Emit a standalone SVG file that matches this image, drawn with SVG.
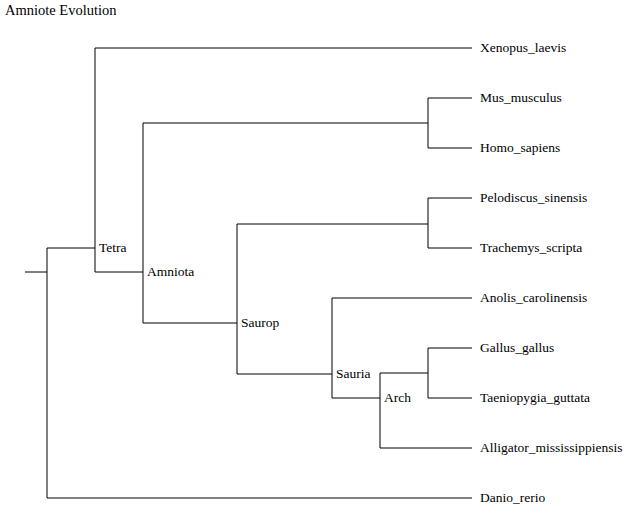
<svg xmlns="http://www.w3.org/2000/svg" width="640" height="514" viewBox="0 0 640 514">
<style>
text{font-family:"Liberation Serif","DejaVu Serif",serif;font-size:13.5px;fill:#000}
.t{font-size:14.5px}
.e{stroke:#000;stroke-width:1;fill:none}
</style>
<rect width="640" height="514" fill="#fff"/>
<text class="t" x="5" y="15">Amniote Evolution</text>
<g id="connectors" class="e">
<path d="M25 272H47M47 248V498M47 498H472M47 248H95M95 48V272M95 48H472M95 272H143M143 123V323M143 123H428M428 98V148M428 98H472M428 148H472M143 323H237M237 224V374M237 224H428M428 198V248M428 198H472M428 248H472M237 374H332M332 298V398M332 298H472M332 398H380M380 373V448M380 448H472M380 373H428M428 348V398M428 348H472M428 398H472"/>
</g>
<g id="Tetra"><text x="99" y="252">Tetra</text></g>
<g id="Amniota"><text x="147" y="276">Amniota</text></g>
<g id="Saurop"><text x="241" y="327">Saurop</text></g>
<g id="Sauria"><text x="336" y="378">Sauria</text></g>
<g id="Arch"><text x="384" y="402">Arch</text></g>
<g id="Xenopus_laevis"><text x="480" y="52">Xenopus_laevis</text></g>
<g id="Mus_musculus"><text x="480" y="102">Mus_musculus</text></g>
<g id="Homo_sapiens"><text x="480" y="152">Homo_sapiens</text></g>
<g id="Pelodiscus_sinensis"><text x="480" y="202">Pelodiscus_sinensis</text></g>
<g id="Trachemys_scripta"><text x="480" y="252">Trachemys_scripta</text></g>
<g id="Anolis_carolinensis"><text x="480" y="302">Anolis_carolinensis</text></g>
<g id="Gallus_gallus"><text x="480" y="352">Gallus_gallus</text></g>
<g id="Taeniopygia_guttata"><text x="480" y="402">Taeniopygia_guttata</text></g>
<g id="Alligator_mississippiensis"><text x="480" y="452">Alligator_mississippiensis</text></g>
<g id="Danio_rerio"><text x="480" y="502">Danio_rerio</text></g>
</svg>
